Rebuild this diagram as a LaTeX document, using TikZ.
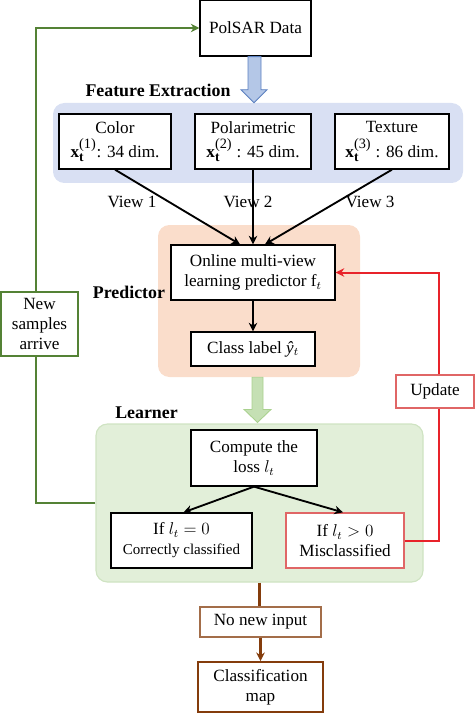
\documentclass[tikz,border=0pt]{standalone}
\usepackage{fontspec}
\setmainfont{Liberation Serif}
\usetikzlibrary{arrows.meta,calc}
\definecolor{bluebg}{HTML}{D9E0F3}
\definecolor{orangebg}{HTML}{FADDCB}
\definecolor{greenbg}{HTML}{E2EFD9}
\definecolor{greenrim}{HTML}{CFE3C2}
\definecolor{bluefill}{HTML}{B4C7E7}
\definecolor{bluerim}{HTML}{5B80C0}
\definecolor{greenfill}{HTML}{C5E0B4}
\definecolor{greenarr}{HTML}{A9D18E}
\definecolor{loopgreen}{HTML}{548235}
\definecolor{updred}{HTML}{E8232A}
\definecolor{softred}{HTML}{E06666}
\definecolor{brown}{HTML}{843C0C}
\def\pxu{0.7pt}
\def\featvec#1{$\mathbf{x}_{\mbox{\fontsize{9.5}{10}\selectfont\bfseries t}}^{\mbox{\fontsize{10}{10}\selectfont(#1)}}$}
\tikzset{
	box/.style={draw, fill=white, line width=0.9pt, align=center, inner sep=0pt,
		font=\fontsize{12}{14}\selectfont},
	bgbox/.style={rounded corners=8pt, inner sep=0pt},
	head/.style={font=\fontsize{12.5}{14}\selectfont\bfseries},
	viewlbl/.style={font=\fontsize{12}{14}\selectfont},
	arr/.style={line width=1.3pt, -{Stealth[length=6pt,width=6pt]}},
}
\begin{document}
\begin{tikzpicture}[x=0.7pt, y=-0.7pt]
		%%%%% START %%%%%
		\useasboundingbox (0,0) rectangle (474,713);
		
		% backgrounds
		\node[bgbox, fill=bluebg, minimum width=410*\pxu, minimum height=80*\pxu] (febg) at (258,143) {};
		\node[bgbox, fill=orangebg, minimum width=202*\pxu, minimum height=152*\pxu] (predbg) at (259,301) {};
		\node[bgbox, fill=greenbg, draw=greenrim, line width=0.8pt, minimum width=327*\pxu, minimum height=158*\pxu] (learnbg) at (259.5,503) {};
		
		\node[head] (felbl) at (158,90) {Feature Extraction};
		\node[head] (predlbl) at (129,292) {Predictor};
		\node[head] (learnlbl) at (146.5,413) {Learner};
		
		% input
		\node[box, minimum width=111*\pxu, minimum height=56*\pxu] (data) at (255.5,28) {PolSAR Data};
		\draw[fill=bluefill, draw=bluerim, line width=0.6pt]
			($(data.south)+(-7.5,0)$) -- ($(data.south |- febg.north)+(-7.5,-13)$)
			-- ($(data.south |- febg.north)+(-14.5,-13)$) -- ($(data.south |- febg.north)+(-1.5,0)$)
			-- ($(data.south |- febg.north)+(11.5,-13)$) -- ($(data.south |- febg.north)+(5.5,-13)$)
			-- ($(data.south)+(5.5,0)$) -- cycle;
		
		% views
		\node[box, minimum width=112*\pxu, minimum height=55*\pxu] (color) at (115,141.5) {Color\\[3pt]\featvec{1}: 34 dim.};
		\node[box, minimum width=116*\pxu, minimum height=55*\pxu] (polar) at (253,141.5) {Polarimetric\\[3pt]\featvec{2} : 45 dim.};
		\node[box, minimum width=114*\pxu, minimum height=55*\pxu] (texture) at (392,141.5) {Texture\\[3pt]\featvec{3} : 86 dim.};
		
		\node[viewlbl] (v1) at (132,202) {View 1};
		\node[viewlbl] (v2) at (248,202) {View 2};
		\node[viewlbl] (v3) at (370,202) {View 3};
		
		% predictor
		\node[box, minimum width=164*\pxu, minimum height=55*\pxu] (pred) at (253,272.5) {Online multi-view\\learning predictor $\mathrm{f}_t$};
		\node[box, minimum width=124*\pxu, minimum height=34*\pxu] (cls) at (253,349) {Class label {\itshape ŷ}$_t$};
		
		\draw[arr] (color.south) -- ([xshift=-13*\pxu]pred.north);
		\draw[arr] (polar.south) -- (pred.north);
		\draw[arr] (texture.south) -- ([xshift=12*\pxu]pred.north);
		\draw[arr] (pred.south) -- (cls.north);
		
		\draw[fill=greenfill, draw=greenarr, line width=0.6pt]
			($(predbg.south)+(-7,0)$) -- ($(predbg.south |- learnbg.north)+(-7,-14)$)
			-- ($(predbg.south |- learnbg.north)+(-15,-14)$) -- ($(predbg.south |- learnbg.north)+(-1.5,-1)$)
			-- ($(predbg.south |- learnbg.north)+(12,-14)$) -- ($(predbg.south |- learnbg.north)+(4,-14)$)
			-- ($(predbg.south)+(4,0)$) -- cycle;
		
		% learner
		\node[box, minimum width=126*\pxu, minimum height=56*\pxu] (loss) at (254,458) {Compute the\\loss $l_t$};
		\node[box, minimum width=141*\pxu, minimum height=55*\pxu] (ok) at (181.5,540.5) {If $l_t = 0$\\{\fontsize{10.5}{12}\selectfont Correctly classified}};
		\node[box, draw=softred, minimum width=118*\pxu, minimum height=55*\pxu] (bad) at (345,540.5) {If $l_t > 0$\\Misclassified};
		
		\draw[arr] (loss.south) -- ([xshift=2*\pxu]ok.north);
		\draw[arr] (loss.south) -- ([xshift=-2*\pxu]bad.north);
		
		% update loop
		\draw[updred, line width=1.4pt, -{Stealth[length=6pt,width=6pt]}] (bad.east) -- ++(34,0) |- (pred.east);
		\node[box, draw=softred, minimum width=78*\pxu, minimum height=33*\pxu] (upd) at (435,391.5) {Update};
		
		% new samples loop
		\draw[loopgreen, line width=1.4pt, -{Stealth[length=6pt,width=6pt]}] (learnbg.west) -- ++(-59,0) |- (data.west);
		\node[box, draw=loopgreen, minimum width=77*\pxu, minimum height=64*\pxu] (newsmp) at (39.5,324) {New\\samples\\arrive};
		
		% output
		\node[box, draw=brown!75, minimum width=121*\pxu, minimum height=30*\pxu] (none) at (260.5,622) {No new input};
		\node[box, draw=brown, line width=1.3pt, minimum width=125*\pxu, minimum height=50*\pxu] (map) at (260.5,687) {Classification\\map};
		
		\draw[brown, line width=1.6pt] (learnbg.south) -- (none.north -| learnbg.south);
		\draw[brown, line width=1.6pt, -{Stealth[length=6pt,width=6pt]}] (none.south) -- (map.north);
		
		%%%%% END %%%%%
\end{tikzpicture}
\end{document}
